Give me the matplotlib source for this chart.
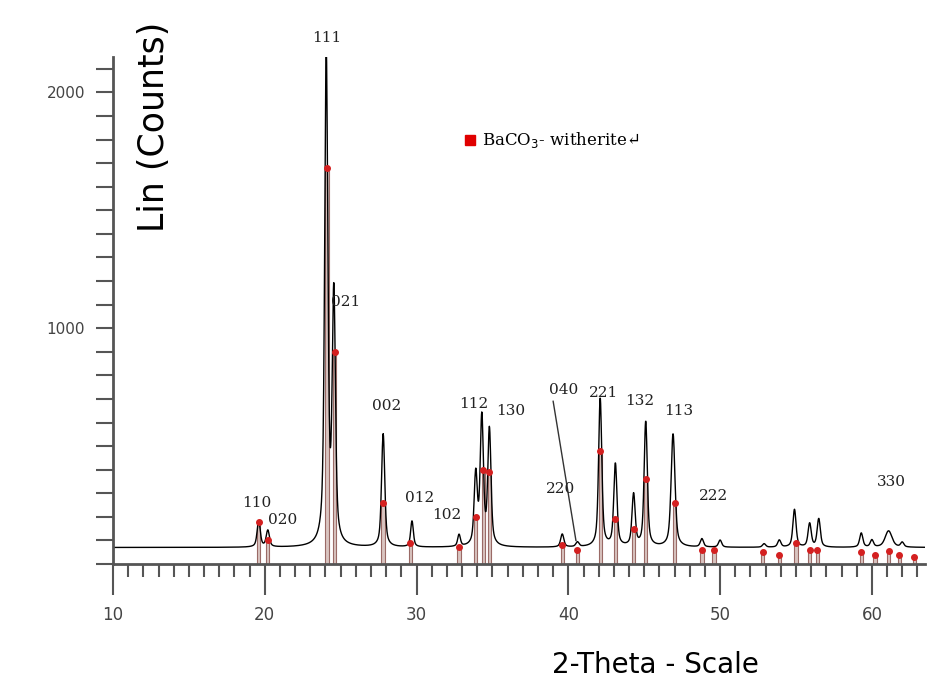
import numpy as np
import matplotlib
matplotlib.use("Agg")
import matplotlib.pyplot as plt

# measured peaks: position (2theta), height above background, half width
peak_pos = [19.6, 20.2, 24.05, 24.55, 27.8, 29.7, 32.8, 33.9, 34.3, 34.8, 39.6, 40.6,
            42.1, 43.1, 44.3, 45.1, 46.9, 48.8, 50.0, 52.9, 53.9, 54.9, 55.9, 56.5,
            59.3, 60.0, 61.1, 62.0]
peak_h = [110, 70, 2080, 1050, 480, 110, 50, 300, 540, 490, 55, 20,
          630, 350, 220, 530, 480, 35, 30, 15, 30, 160, 100, 120,
          60, 30, 70, 20]
peak_w = [0.14, 0.14, 0.14, 0.14, 0.14, 0.12, 0.12, 0.14, 0.14, 0.14, 0.14, 0.14,
          0.14, 0.14, 0.14, 0.14, 0.17, 0.14, 0.14, 0.14, 0.14, 0.14, 0.14, 0.14,
          0.14, 0.14, 0.3, 0.14]
background = 70

# reference (witherite) stick pattern: position, intensity
ref_pos = [19.6, 20.2, 24.1, 24.6, 27.8, 29.6, 32.8, 33.9, 34.4, 34.8, 39.6, 40.6,
           42.1, 43.1, 44.3, 45.1, 47.0, 48.8, 49.6, 52.8, 53.9, 55.0, 55.9, 56.4,
           59.3, 60.2, 61.1, 61.8, 62.8]
ref_h = [180, 100, 1680, 900, 260, 90, 70, 200, 400, 390, 80, 60,
         480, 190, 150, 360, 260, 60, 60, 50, 40, 90, 60, 60,
         50, 40, 55, 40, 30]

hkl_labels = ["111", "021", "110", "020", "002", "012", "102", "112", "130", "220",
              "040", "221", "132", "113", "222", "330"]
hkl_xy = [(24.1, 2200), (25.3, 1080), (19.5, 230), (21.2, 155), (28.0, 640), (30.2, 250),
          (32.0, 180), (33.8, 650), (36.2, 620), (39.5, 290),
          (39.7, 710), (42.3, 695), (44.7, 660), (47.3, 620), (49.6, 260), (61.3, 320)]

x = np.linspace(10, 63.5, 3000)
y = np.full_like(x, background, dtype=float)
for p, h, w in zip(peak_pos, peak_h, peak_w):
    y += h / (1 + ((x - p) / w) ** 2) * 0.5 + h * 0.5 * np.exp(-((x - p) / w) ** 2)

fig = plt.figure(figsize=(9.43, 6.82), dpi=100)
ax = fig.add_axes([113 / 943, (682 - 564) / 682, (925 - 113) / 943, (564 - 57) / 682])
ax.set_xlim(10, 63.5)
ax.set_ylim(0, 2150)

ax.bar(ref_pos, ref_h, width=0.22, color="#d9c4c0", edgecolor="#9a6a66", linewidth=0.8, zorder=1)
ax.plot(x, y, color="black", lw=1.0, zorder=2)
ax.plot(ref_pos, ref_h, "o", color="#d42020", ms=4, zorder=3)

for t, (px, py) in zip(hkl_labels, hkl_xy):
    ax.text(px, py, t, ha="center", va="bottom", fontsize=11, family="DejaVu Serif", color="#222")
ax.plot([39.0, 40.5], [690, 100], color="#333", lw=1)

ax.text(0.03, 1.07, "Lin (Counts)", rotation=90, transform=ax.transAxes, fontsize=25,
        va="top", ha="left")
fig.text(655 / 943, 1 - 665 / 682, "2-Theta - Scale", fontsize=20, ha="center", va="center")
ax.plot([0.44], [0.836], "s", color="#e00000", ms=7, transform=ax.transAxes)
ax.text(0.455, 0.836, "BaCO$_3$- witherite\u21b5", transform=ax.transAxes, fontsize=12,
        family="DejaVu Serif", va="center")

for s in ["top", "right"]:
    ax.spines[s].set_visible(False)
ax.spines["left"].set_color("#555")
ax.spines["left"].set_linewidth(2)
ax.spines["bottom"].set_color("#555")
ax.spines["bottom"].set_linewidth(2)
ax.set_yticks([1000, 2000])
ax.set_yticks(np.arange(0, 2150, 100), minor=True)
ax.set_xticks([10, 20, 30, 40, 50, 60])
ax.set_xticks(np.arange(10, 64, 1), minor=True)
ax.tick_params(axis="y", which="both", direction="out", length=12, width=1.5, color="#555",
               labelsize=11, labelcolor="#444", pad=8)
ax.tick_params(axis="x", which="major", direction="out", length=22, width=1.5, color="#555",
               labelsize=12, labelcolor="#444", pad=8)
ax.tick_params(axis="x", which="minor", direction="out", length=9, width=1.5, color="#555")
fig.savefig("out.png")
